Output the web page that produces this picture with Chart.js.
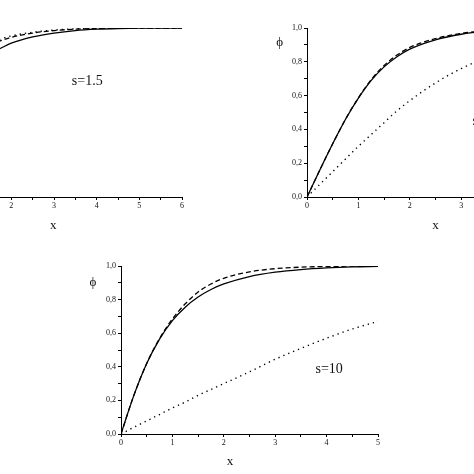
<!DOCTYPE html>
<html>
<head>
<meta charset="utf-8">
<script src="https://cdn.jsdelivr.net/npm/chart.js@4/dist/chart.umd.min.js"></script>
<style>
  html, body { margin: 0; padding: 0; background: #fff; overflow: hidden; }
  body { width: 474px; height: 474px; position: relative; }
  canvas { position: absolute; }
</style>
</head>
<body>
<canvas id="panelS15"></canvas>
<canvas id="panelS5"></canvas>
<canvas id="panelS10"></canvas>
<script>
// x grid of the curves
const xShort = [0, 0.25, 0.5, 0.75, 1, 1.25, 1.5, 1.75, 2, 2.5, 3, 3.5, 4, 4.5, 5];
const xLong = [0, 0.25, 0.5, 0.75, 1, 1.25, 1.5, 1.75, 2, 2.5, 3, 3.5, 4, 4.5, 5, 5.5, 6];

// s = 1.5 (top left, x 0..6)
const s15Solid = [0, 0.25, 0.46, 0.62, 0.73, 0.80, 0.85, 0.88, 0.91, 0.947, 0.97, 0.985, 0.993, 0.997, 0.999, 1, 1];
const s15Dashed = [0, 0.26, 0.48, 0.65, 0.77, 0.85, 0.90, 0.925, 0.945, 0.97, 0.985, 0.993, 0.997, 0.999, 1, 1, 1];
const s15Dotted = [0, 0.27, 0.50, 0.67, 0.79, 0.86, 0.91, 0.935, 0.953, 0.975, 0.988, 0.995, 0.998, 0.999, 1, 1, 1];

// s = 5 (top right, x 0..5)
const s5Solid = [0, 0.16, 0.315, 0.46, 0.585, 0.69, 0.77, 0.83, 0.875, 0.93, 0.963, 0.981, 0.991, 0.996, 0.998];
const s5Dashed = [0, 0.16, 0.315, 0.46, 0.587, 0.695, 0.778, 0.84, 0.885, 0.937, 0.968, 0.984, 0.993, 0.997, 0.999];
const s5Dotted = [0, 0.075, 0.15, 0.225, 0.30, 0.37, 0.44, 0.51, 0.57, 0.675, 0.76, 0.825, 0.875, 0.91, 0.935];

// s = 10 (bottom, x 0..5)
const s10Solid = [0, 0.23, 0.42, 0.565, 0.675, 0.755, 0.815, 0.86, 0.893, 0.937, 0.963, 0.979, 0.989, 0.995, 0.998];
const s10Dashed = [0, 0.23, 0.42, 0.568, 0.685, 0.775, 0.845, 0.893, 0.927, 0.965, 0.984, 0.993, 0.997, 0.999, 1];
const s10Dotted = [0, 0.04, 0.078, 0.116, 0.155, 0.19, 0.23, 0.265, 0.30, 0.37, 0.445, 0.51, 0.57, 0.625, 0.67];

const serif = '"Liberation Serif", "DejaVu Serif", serif';

const textPlugin = {
    id: 'panelText',
    afterDraw(chart, args, opts) {
        const ctx = chart.ctx;
        const xs = chart.scales.x, ys = chart.scales.y;
        ctx.save();
        ctx.fillStyle = '#111';
        ctx.textAlign = 'center';
        ctx.textBaseline = 'middle';
        (opts.items || []).forEach(it => {
            ctx.font = it.font;
            ctx.fillText(it.text, xs.getPixelForValue(it.x), ys.getPixelForValue(it.y));
        });
        ctx.restore();
    }
};

function pts(xs, ys) {
    return xs.map((x, i) => ({ x: x, y: ys[i] }));
}

function makePanel(id, box, xMax, xs, solid, dashed, dotted, texts) {
    const canvas = document.getElementById(id);
    canvas.width = box.w;
    canvas.height = box.h;
    canvas.style.left = box.left + 'px';
    canvas.style.top = box.top + 'px';
    canvas.style.width = box.w + 'px';
    canvas.style.height = box.h + 'px';

    const line = { borderColor: '#000', borderWidth: 1.3, pointRadius: 0, fill: false, cubicInterpolationMode: 'monotone' };

    new Chart(canvas, {
        type: 'line',
        data: {
            datasets: [
                Object.assign({ data: pts(xs, dotted), borderDash: [1.3, 4] }, line, { borderWidth: 1.4 }),
                Object.assign({ data: pts(xs, dashed), borderDash: [5, 3] }, line),
                Object.assign({ data: pts(xs, solid) }, line)
            ]
        },
        options: {
            responsive: false,
            animation: false,
            layout: { padding: { left: 0, right: 10, top: 10, bottom: 0 } },
            plugins: {
                legend: { display: false },
                tooltip: { enabled: false },
                panelText: { items: texts }
            },
            scales: {
                x: {
                    type: 'linear',
                    min: 0,
                    max: xMax,
                    afterFit: s => { s.height = 40; },
                    border: { color: '#000', width: 1 },
                    grid: { drawOnChartArea: false, tickLength: 3, color: '#000', tickColor: '#000' },
                    ticks: {
                        stepSize: 0.5,
                        autoSkip: false,
                        maxRotation: 0,
                        padding: 1,
                        color: '#111',
                        font: { family: serif, size: 8 },
                        callback: v => Number.isInteger(v) ? String(v) : ''
                    }
                },
                y: {
                    min: 0,
                    max: 1,
                    afterFit: s => { s.width = 34; },
                    border: { color: '#000', width: 1 },
                    grid: { drawOnChartArea: false, tickLength: 3, color: '#000', tickColor: '#000' },
                    ticks: {
                        stepSize: 0.1,
                        autoSkip: false,
                        padding: 2,
                        color: '#111',
                        font: { family: serif, size: 8 },
                        callback: v => Math.round(v * 10) % 2 === 0 ? v.toFixed(1).replace('.', ',') : ''
                    }
                }
            }
        },
        plugins: [textPlugin]
    });
}

const labelFont = '13px ' + serif;
const noteFont = '14px ' + serif;

makePanel('panelS15', { left: -108.4, top: 18.3, w: 300, h: 219 }, 6, xLong, s15Solid, s15Dashed, s15Dotted, [
    { text: 'ϕ', x: -0.64, y: 0.913, font: labelFont },
    { text: 'x', x: 2.98, y: -0.17, font: labelFont },
    { text: 's=1.5', x: 3.78, y: 0.682, font: noteFont }
]);

makePanel('panelS5', { left: 273.3, top: 18.3, w: 301, h: 219 }, 5, xShort, s5Solid, s5Dashed, s5Dotted, [
    { text: 'ϕ', x: -0.53, y: 0.913, font: labelFont },
    { text: 'x', x: 2.5, y: -0.17, font: labelFont },
    { text: 's=5', x: 3.42, y: 0.445, font: noteFont }
]);

makePanel('panelS10', { left: 87, top: 256, w: 301, h: 218 }, 5, xShort, s10Solid, s10Dashed, s10Dotted, [
    { text: 'ϕ', x: -0.545, y: 0.904, font: labelFont },
    { text: 'x', x: 2.12, y: -0.164, font: labelFont },
    { text: 's=10', x: 4.05, y: 0.387, font: noteFont }
]);
</script>
</body>
</html>
